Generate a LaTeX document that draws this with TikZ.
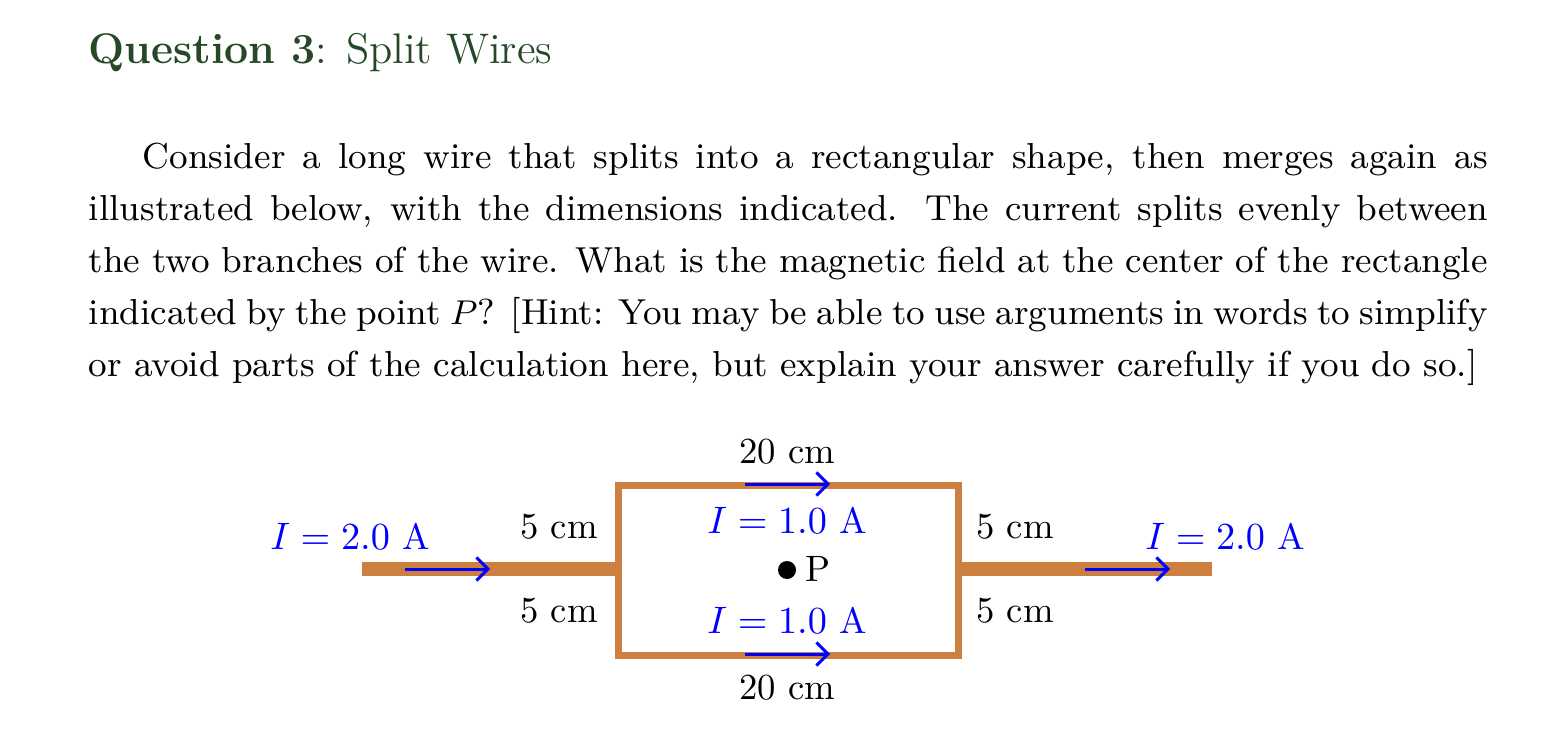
\documentclass[tikz,border=0pt]{standalone}
\usetikzlibrary{arrows.meta}
\usepackage{xcolor}
\definecolor{wire}{RGB}{205,127,63}
\definecolor{titlegreen}{RGB}{38,72,38}
\begin{document}
\begin{tikzpicture}[x=0.2616pt,y=-0.2616pt,
  wireline/.style={wire,line width=14*0.2616pt},
  rectline/.style={wire,line width=7*0.2616pt},
  curarrow/.style={blue,line width=3*0.2616pt,-{Straight Barb[length=3pt,width=6pt]}},
  lbl/.style={font=\fontsize{9.6}{13.6}\selectfont,inner sep=0pt},
  blbl/.style={lbl,text=blue}]
\useasboundingbox (0,0) rectangle (1556,746);
\node[anchor=base west,inner sep=0pt,text=titlegreen,font=\fontsize{11.2}{14}\selectfont] (title) at (88,64) {\textbf{Question 3}: Split Wires};
\node[anchor=north west,inner sep=0pt,text width=1399*0.2616pt,align=justify,font=\fontsize{9.45}{13.6}\selectfont] (para) at (88,142)
{\hspace*{1.5em}Consider a long wire that splits into a rectangular shape, then merges again as illustrated below, with the dimensions indicated. The current splits evenly between the two branches of the wire. What is the magnetic field at the center of the rectangle indicated by the point $P$? [Hint: You may be able to use arguments in words to simplify or avoid parts of the calculation here, but explain your answer carefully if you do so.]};
% wires
\coordinate (lw) at (362,569);
\coordinate (rl) at (619,569);
\coordinate (rr) at (958,569);
\coordinate (rw) at (1212,569);
\draw[wireline] (lw) -- (rl);
\draw[wireline] (rr) -- (rw);
\draw[rectline] (618,485) rectangle (958,655);
% arrows
\coordinate (a1s) at (405,569); \coordinate (a1e) at (490,569);
\coordinate (a2s) at (745,484); \coordinate (a2e) at (830,484);
\coordinate (a3s) at (745,654); \coordinate (a3e) at (830,654);
\coordinate (a4s) at (1085,569); \coordinate (a4e) at (1170,569);
\draw[curarrow] (a1s) -- (a1e);
\draw[curarrow] (a2s) -- (a2e);
\draw[curarrow] (a3s) -- (a3e);
\draw[curarrow] (a4s) -- (a4e);
% labels
\node[blbl] (il) at (350,536) {$I=2.0$ A};
\node[blbl] (ir) at (1225,536) {$I=2.0$ A};
\node[blbl] (it) at (787,520) {$I=1.0$ A};
\node[blbl] (ib) at (787,620) {$I=1.0$ A};
\node[lbl] (d1) at (559,527) {5 cm};
\node[lbl] (d2) at (559,611) {5 cm};
\node[lbl] (d3) at (1015,527) {5 cm};
\node[lbl] (d4) at (1015,611) {5 cm};
\node[lbl] (d5) at (787,452) {20 cm};
\node[lbl] (d6) at (787,688) {20 cm};
\fill (787,570) circle (9);
\node[lbl] (p) at (818,569) {P};
\end{tikzpicture}
\end{document}
